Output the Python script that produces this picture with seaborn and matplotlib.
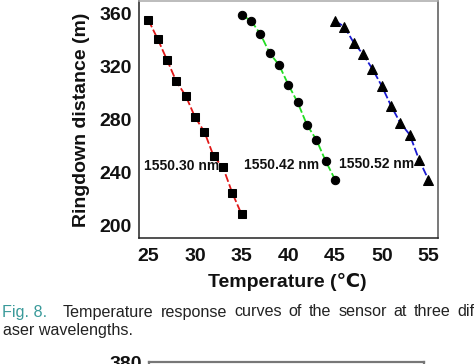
import matplotlib
matplotlib.use("Agg")
import matplotlib.pyplot as plt
import seaborn as sns
import pandas as pd

# ---- data ----
temp_a = [25, 26, 27, 28, 29, 30, 31, 32, 33, 34, 35]
dist_a = [355.0, 340.6, 324.8, 308.5, 297.7, 281.6, 270.5, 251.9, 243.6, 224.1, 208.0]
temp_b = [35, 36, 37, 38, 39, 40, 41, 42, 43, 44, 45]
dist_b = [358.7, 354.4, 344.4, 329.9, 321.0, 306.0, 292.6, 275.6, 264.5, 248.3, 234.4]
temp_c = [45, 46, 47, 48, 49, 50, 51, 52, 53, 54, 55]
dist_c = [354.2, 349.9, 337.8, 329.1, 318.0, 305.2, 290.1, 277.1, 268.3, 249.4, 234.4]
labels = ["1550.30 nm", "1550.42 nm", "1550.52 nm"]
x_ticks = [25, 30, 35, 40, 45, 50, 55]
y_ticks = [200, 240, 280, 320, 360]
caption_line1 = "Temperature response curves of the sensor at three dif"
caption_line2 = "aser wavelengths."

sns.set_theme(style="white")
plt.rcParams["font.family"] = ["Liberation Sans", "DejaVu Sans"]

fig = plt.figure(figsize=(4.74, 3.64), dpi=100)
W, H = 474, 364
ax = fig.add_axes([139 / W, 1 - 238 / H, (437.7 - 139) / W, (238 - 1) / H])

series = [
    (temp_a, dist_a, "#e01818", "s", 5.2),
    (temp_b, dist_b, "#22dd22", "o", 6.0),
    (temp_c, dist_c, "#1a1ad0", "^", 6.5),
]
for t, d, col, mk, ms in series:
    df = pd.DataFrame({"T": t, "D": d})
    sns.lineplot(data=df, x="T", y="D", ax=ax, color=col, lw=1.3,
                 linestyle=(0, (4.5, 1.5)), zorder=2)
    sns.lineplot(data=df, x="T", y="D", ax=ax, color="black", lw=0,
                 marker=mk, markersize=ms, markeredgecolor="black",
                 markerfacecolor="black", zorder=3)

ann_pos = [(28.55, 244.9), (39.26, 245.7), (49.43, 246.4)]
for (xp, yp), lab in zip(ann_pos, labels):
    ax.text(xp, yp, lab, ha="center", va="center", fontsize=10,
            fontweight="bold", color="#111")

ax.set_xlim(24.0, 56.0)
ax.set_ylim(190.2, 369.3)
ax.set_xticks(x_ticks)
ax.set_yticks(y_ticks)
ax.set_xticklabels([str(v) for v in x_ticks], fontsize=14, fontweight="bold")
ax.set_yticklabels([str(v) for v in y_ticks], fontsize=14, fontweight="bold")
ax.tick_params(axis="both", length=0, colors="#111")
ax.tick_params(axis="x", pad=7)
ax.tick_params(axis="y", pad=5)
ax.set_xlabel("")
ax.set_ylabel("")
for side, c in [("left", "#222"), ("bottom", "#222"), ("right", "#555"), ("top", "#aaa")]:
    ax.spines[side].set_color(c)
    ax.spines[side].set_linewidth(1.1)
    ax.spines[side].set_visible(True)

fig.text(287.5 / W, 1 - 282 / H, "Temperature (℃)", ha="center", va="center",
         fontsize=14, fontweight="bold", color="#111")
fig.text(82 / W, 1 - 120 / H, "Ringdown distance (m)", ha="center", va="center",
         rotation=90, fontsize=14, fontweight="bold", color="#111")

# caption (first line justified, cut at the right edge like the page crop)
cap_fs = 11.6
fig.text(2 / W, 1 - 312 / H, "Fig. 8.", ha="left", va="center",
         fontsize=cap_fs, color="#3a9a9a")
renderer = fig.canvas.get_renderer()
words = caption_line1.split(" ")
word_objs = [fig.text(0, 1 - 312 / H, w, ha="left", va="center",
                      fontsize=cap_fs, color="#222") for w in words]
widths = [o.get_window_extent(renderer).width for o in word_objs]
x0, x1 = 63.0, 475.0
gap = max((x1 - x0 - sum(widths)) / (len(words) - 1), 3.0)
xc = x0
for o, wdt in zip(word_objs, widths):
    o.set_x(xc / W)
    xc += wdt + gap
fig.text(3 / W, 1 - 330 / H, caption_line2, ha="left", va="center",
         fontsize=cap_fs, color="#222")

# partial next figure at bottom
ax2 = fig.add_axes([149 / W, (1 - 362 / H) - 0.6, (424 - 149) / W, 0.6])
ax2.set_xlim(0, 1)
ax2.set_ylim(200, 380)
ax2.set_yticks([380])
ax2.set_yticklabels(["380"], fontsize=14, fontweight="bold")
ax2.set_xticks([])
ax2.tick_params(axis="y", length=0, pad=5, colors="#111")
for s in ax2.spines.values():
    s.set_color("#777")
    s.set_linewidth(1.6)

fig.savefig("out.png", dpi=100)
